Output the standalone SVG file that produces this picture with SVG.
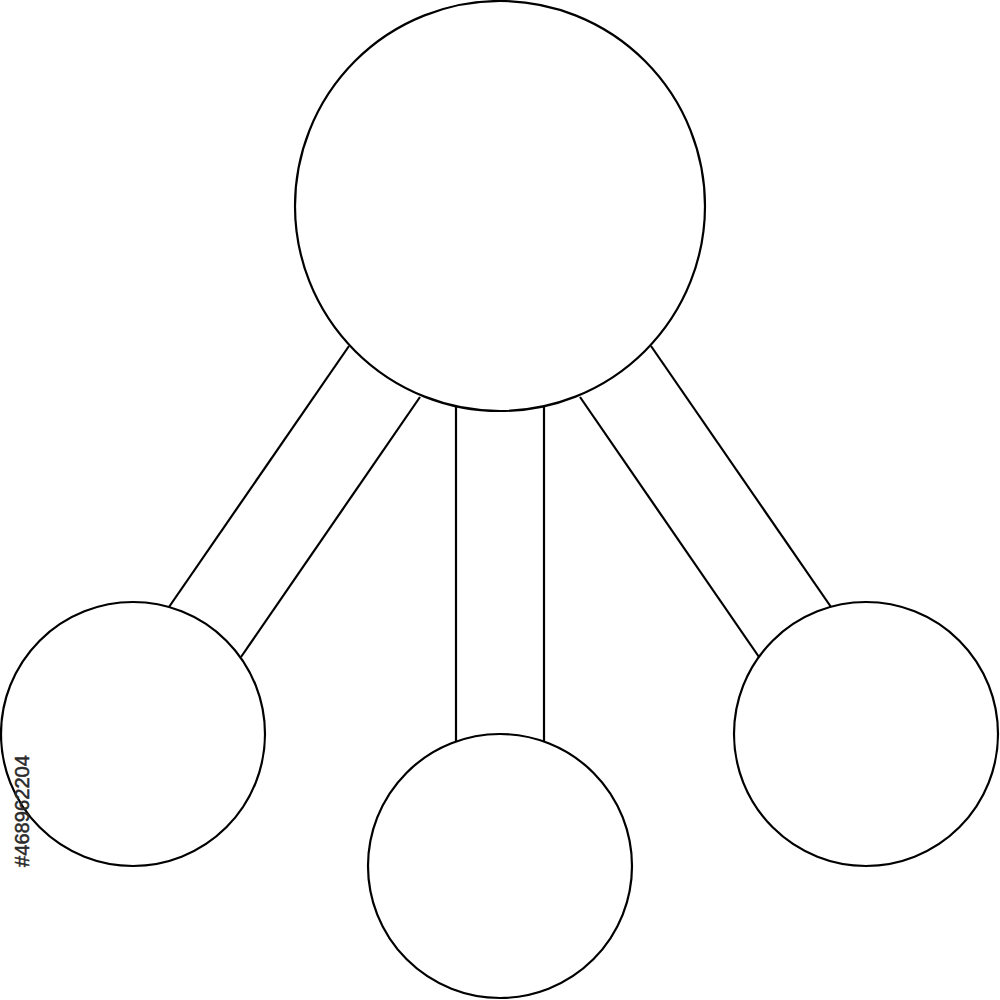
<svg xmlns="http://www.w3.org/2000/svg" width="1000" height="1000" viewBox="0 0 1000 1000">
<style>
.node{fill:#ffffff;stroke:#000000;stroke-width:2.2}
.conn line{stroke:#000000;stroke-width:2.2}
.id{font-family:"Liberation Sans",Arial,sans-serif;font-size:21px;fill:#2a2a2a;stroke:#2a2a2a;stroke-width:0.5}
</style>
<rect width="1000" height="1000" fill="#ffffff"/>
<g id="connectors" class="conn">
<line x1="349" y1="346" x2="169" y2="607"/>
<line x1="420" y1="397" x2="241" y2="657"/>
<line x1="456" y1="406" x2="456" y2="742"/>
<line x1="544" y1="406" x2="544" y2="742"/>
<line x1="580" y1="397" x2="759" y2="657"/>
<line x1="651" y1="346" x2="831" y2="607"/>
</g>
<g id="node-top"><circle class="node" cx="500" cy="206" r="205"/></g>
<g id="node-left"><circle class="node" cx="133" cy="734" r="132"/></g>
<g id="node-middle"><circle class="node" cx="500" cy="866" r="132"/></g>
<g id="node-right"><circle class="node" cx="866" cy="734" r="132"/></g>
<text class="id" transform="translate(29,867) rotate(-90)" textLength="112" lengthAdjust="spacingAndGlyphs">#468962204</text>
</svg>
